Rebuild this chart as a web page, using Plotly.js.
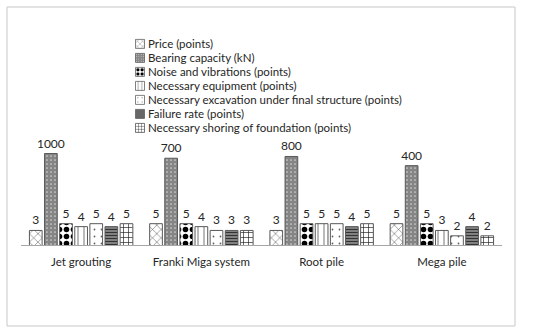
<!DOCTYPE html>
<html><head><meta charset="utf-8">
<script src="https://cdn.plot.ly/plotly-3.0.1.min.js"></script>
<style>html,body{margin:0;padding:0;background:#fff}#chart{width:550px;height:335px}</style>
</head><body><div id="chart"></div>
<script>
const categories = ["Jet grouting", "Franki Miga system", "Root pile", "Mega pile"];
const seriesNames = [
  "Price (points)",
  "Bearing capacity (kN)",
  "Noise and vibrations (points)",
  "Necessary equipment (points)",
  "Necessary excavation under final structure (points)",
  "Failure rate (points)",
  "Necessary shoring of foundation (points)"
];
const price = [3, 5, 3, 5];
const bearing = [1000, 700, 800, 400];
const noise = [5, 5, 5, 5];
const equipment = [4, 4, 5, 3];
const excavation = [5, 3, 5, 2];
const failure = [4, 3, 4, 4];
const shoring = [5, 3, 5, 2];
const values = [price, bearing, noise, equipment, excavation, failure, shoring];

const styles = [
  {bg: "#ffffff", fg: "#404040", shape: "x", size: 6, solidity: 0.15},
  {bg: "#858585", fg: "#d0d0d0", shape: ".", size: 4, solidity: 0.15},
  {bg: "#ffffff", fg: "#000000", shape: ".", size: 7, solidity: 0.5},
  {bg: "#ffffff", fg: "#404040", shape: "|", size: 6, solidity: 0.12},
  {bg: "#ffffff", fg: "#606060", shape: ".", size: 7, solidity: 0.05},
  {bg: "#9a9a9a", fg: "#333333", shape: "-", size: 3, solidity: 0.5},
  {bg: "#ffffff", fg: "#222222", shape: "+", size: 5, solidity: 0.25}
];
const FONT = "Lato, sans-serif";
const traces = seriesNames.map((n, i) => ({
  type: "bar",
  name: n,
  x: categories,
  y: values[i],
  text: values[i].map(String),
  textposition: "outside",
  constraintext: "none",
  textfont: {family: FONT, size: 12, color: "#262626"},
  cliponaxis: false,
  marker: {
    color: styles[i].bg,
    line: {color: "#595959", width: 1},
    pattern: {shape: styles[i].shape, fgcolor: styles[i].fg, bgcolor: styles[i].bg,
              size: styles[i].size, solidity: styles[i].solidity, fillmode: "replace"}
  }
}));

const L = 21, R = 502, B = 245, T = 30;
const layout = {
  width: 550, height: 335,
  margin: {l: L, r: 550 - R, t: T, b: 335 - B, pad: 0},
  paper_bgcolor: "#fff", plot_bgcolor: "#fff",
  barmode: "group", bargap: 0.12, bargroupgap: 0.16,
  font: {family: FONT, size: 11.5, color: "#262626"},
  showlegend: true,
  legend: {x: (108 - L) / (R - L), xanchor: "left", y: 1.04 - 8 / (B - T), yanchor: "top",
           font: {family: FONT, size: 11.5, color: "#262626"},
           bgcolor: "rgba(0,0,0,0)", tracegroupgap: 0, itemwidth: 30},
  xaxis: {showline: true, linecolor: "#a6a6a6", linewidth: 1, ticks: "", ticklabelstandoff: 6,
          tickfont: {family: FONT, size: 11.5, color: "#262626"}, fixedrange: true},
  yaxis: {type: "log", range: [0, 7.05], showgrid: false, zeroline: false,
          showticklabels: false, ticks: "", showline: false},
  shapes: [{type: "rect", xref: "paper", yref: "paper",
            x0: (7 - L) / (R - L), x1: (515 - L) / (R - L),
            y0: (B - 326) / (B - T), y1: (B - 7) / (B - T),
            line: {color: "#c8c8c8", width: 1}, fillcolor: "rgba(0,0,0,0)"}]
};
Plotly.newPlot("chart", traces, layout, {staticPlot: true}).then(gd => {
  const items = gd.querySelectorAll(".legend .traces");
  let y0 = null;
  items.forEach((g, i) => {
    const m = /translate\(([-\d.]+),\s*([-\d.]+)\)/.exec(g.getAttribute("transform") || "");
    const x = m ? parseFloat(m[1]) : 0;
    const y = m ? parseFloat(m[2]) : 0;
    if (y0 === null) y0 = y;
    g.setAttribute("transform", `translate(${x},${y0 + i * 14})`);
    const pts = g.querySelector(".legendpoints");
    if (pts) pts.setAttribute("transform", "translate(32,0) scale(0.75) translate(-20,0)");
  });
});
</script></body></html>
